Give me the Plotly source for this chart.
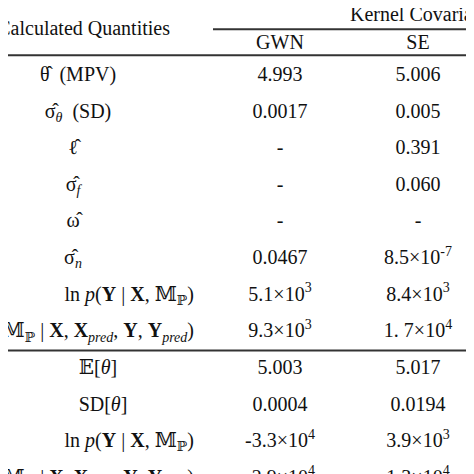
import plotly.graph_objects as go

row_labels = [
    "θ̂  (MPV)",
    "σ̂<sub><i>θ</i></sub>  (SD)",
    "ℓ̂",
    "σ̂<sub><i>f</i></sub>",
    "ω̂",
    "σ̂<sub><i>n</i></sub>",
    "ln <i>p</i>(<b>Y</b> | <b>X</b>, 𝕄<sub>ℙ</sub>)",
    "ln <i>p</i>(𝕄<sub>ℙ</sub> | <b>X</b>, <b>X</b><sub><i>pred</i></sub>, <b>Y</b>, <b>Y</b><sub><i>pred</i></sub>)",
    "𝔼[<i>θ</i>]",
    "SD[<i>θ</i>]",
    "ln <i>p</i>(<b>Y</b> | <b>X</b>, 𝕄<sub>ℙ</sub>)",
    "ln <i>p</i>(𝕄<sub>ℙ</sub> | <b>X</b>, <b>X</b><sub><i>pred</i></sub>, <b>Y</b>, <b>Y</b><sub><i>pred</i></sub>)",
]
gwn = ["4.993", "0.0017", "-", "-", "-", "0.0467", "5.1×10<sup>3</sup>", "9.3×10<sup>3</sup>",
       "5.003", "0.0004", "-3.3×10<sup>4</sup>", "-2.9×10<sup>4</sup>"]
se = ["5.006", "0.005", "0.391", "0.060", "-", "8.5×10<sup>-7</sup>", "8.4×10<sup>3</sup>", "1. 7×10<sup>4</sup>",
      "5.017", "0.0194", "3.9×10<sup>3</sup>", "1.3×10<sup>4</sup>"]
col_headers = ["GWN", "SE"]

rows = list(range(len(row_labels)))
font = dict(family="'Liberation Serif', 'DejaVu Serif', serif", size=20, color="#111")
label_x = [70, 70, 65, 65, 65, 65, 186, 186, 90, 95, 186, 186]
label_pos = ["middle center"] * 6 + ["middle left"] * 2 + ["middle center"] * 2 + ["middle left"] * 2

fig = go.Figure()
fig.add_trace(go.Scatter(x=label_x, y=rows, text=row_labels, mode="text",
                         textposition=label_pos, textfont=font, hoverinfo="skip"))
fig.add_trace(go.Scatter(x=[272] * len(rows), y=rows, text=gwn, mode="text",
                         textfont=font, hoverinfo="skip"))
fig.add_trace(go.Scatter(x=[410] * len(rows), y=rows, text=se, mode="text",
                         textfont=font, hoverinfo="skip"))
fig.add_trace(go.Scatter(x=[272, 410], y=[-0.87, -0.87], text=col_headers, mode="text",
                         textfont=font, hoverinfo="skip"))
fig.add_trace(go.Scatter(x=[342, 162], y=[-1.63, -1.26], text=["Kernel Covariance Function", "Calculated Quantities"],
                         mode="text", textposition=["middle right", "middle left"], textfont=font, hoverinfo="skip"))

line = dict(color="#333", width=2)
fig.add_shape(type="line", x0=205, x1=474, y0=-1.28, y1=-1.28, line=line)
fig.add_shape(type="line", x0=0, x1=474, y0=-0.57, y1=-0.57, line=line)
fig.add_shape(type="line", x0=0, x1=474, y0=7.5, y1=7.5, line=line)

fig.update_layout(width=474, height=474, margin=dict(l=0, r=0, t=0, b=0),
                  plot_bgcolor="white", paper_bgcolor="white", showlegend=False,
                  xaxis=dict(range=[0, 474], visible=False, fixedrange=True),
                  yaxis=dict(range=[11.09, -1.86], visible=False, fixedrange=True))
fig.write_html("out.html")
